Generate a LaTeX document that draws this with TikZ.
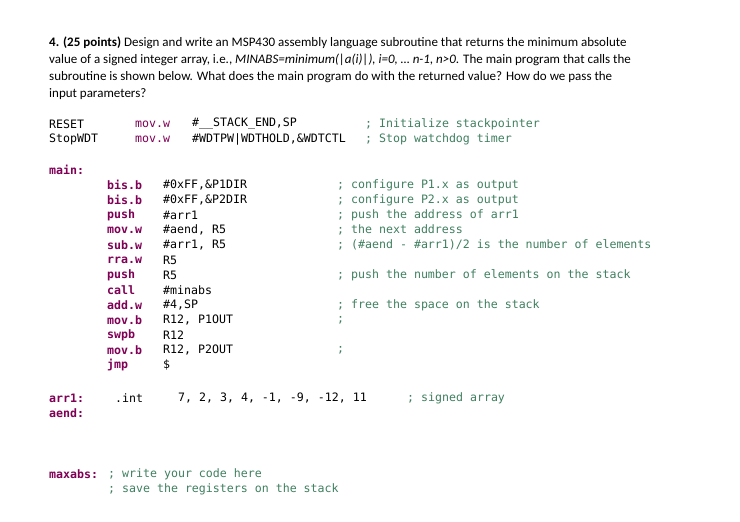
\documentclass[tikz,border=0pt]{standalone}
\usepackage{fontspec}
\setmainfont{Carlito}
\setmonofont{DejaVu Sans Mono}
\definecolor{kwpurple}{RGB}{127,0,85}
\definecolor{cmgreen}{RGB}{63,127,95}
\tikzset{
  qtext/.style={anchor=west,inner sep=0pt,font=\fontsize{13}{15}\selectfont},
  asmtext/.style={anchor=west,inner sep=0pt,font=\ttfamily\fontsize{11.6}{14}\selectfont},
  asmkey/.style={asmtext,text=kwpurple,font=\ttfamily\bfseries\fontsize{11.6}{14}\selectfont},
  asmop/.style={asmtext,text=kwpurple},
  asmnote/.style={asmtext,text=cmgreen}
}
\begin{document}
\begin{tikzpicture}[x=1pt,y=1pt,yscale=-1]
  \useasboundingbox (0,0) rectangle (740,522);
  % question text
  \node[qtext] (q1) at (49,43) {\textbf{4. (25 points)} Design and write an MSP430 assembly language subroutine that returns the minimum absolute};
  \node[qtext] (q2) at (49,60) {value of a signed integer array, i.e., \textit{MINABS=minimum(|a(i)|), i=0, … n-1, n>0}. The main program that calls the};
  \node[qtext] (q3) at (49,77) {subroutine is shown below. What does the main program do with the returned value? How do we pass the};
  \node[qtext] (q4) at (49,94) {input parameters?};
  % reset lines
  \node[asmtext] (reset) at (49,124) {RESET};
  \node[asmop] (resetop) at (135,124) {mov.w};
  \node[asmtext] (resetarg) at (192,124) {\#\_\_STACK\_END,SP};
  \node[asmnote] (resetcm) at (365,124) {; Initialize stackpointer};
  \node[asmtext] (stop) at (49,139) {StopWDT};
  \node[asmop] (stopop) at (135,139) {mov.w};
  \node[asmtext] (stoparg) at (192,139) {\#WDTPW|WDTHOLD,\&WDTCTL};
  \node[asmnote] (stopcm) at (365,139) {; Stop watchdog timer};
  % main program
  \node[asmkey] (main) at (49,170) {main:};
  \foreach \op/\arg/\com [count=\i] in {
      bis.b/{\#0xFF,\&P1DIR}/{; configure P1.x as output},
      bis.b/{\#0xFF,\&P2DIR}/{; configure P2.x as output},
      push/{\#arr1}/{; push the address of arr1},
      mov.w/{\#aend, R5}/{; the next address},
      sub.w/{\#arr1, R5}/{; (\#aend - \#arr1)/2 is the number of elements},
      rra.w/{R5}/{},
      push/{R5}/{; push the number of elements on the stack},
      call/{\#minabs}/{},
      add.w/{\#4,SP}/{; free the space on the stack},
      mov.b/{R12, P1OUT}/{;},
      swpb/{R12}/{},
      mov.b/{R12, P2OUT}/{;},
      jmp/{\$}/{}} {
    \node[asmkey] (op\i) at (107,170+15*\i) {\op};
    \node[asmtext] (arg\i) at (163,170+15*\i) {\arg};
    \node[asmnote] (com\i) at (337,170+15*\i) {\com};
  }
  % data
  \node[asmkey] (arr) at (49,398) {arr1:};
  \node[asmtext] (int) at (115,398) {.int};
  \node[asmtext] (vals) at (178,398) {7, 2, 3, 4, -1, -9, -12, 11};
  \node[asmnote] (valcm) at (407,398) {; signed array};
  \node[asmkey] (aend) at (49,413) {aend:};
  % subroutine
  \node[asmkey] (maxabs) at (49,474) {maxabs:};
  \node[asmnote] (sub1) at (108,474) {; write your code here};
  \node[asmnote] (sub2) at (108,489) {; save the registers on the stack};
\end{tikzpicture}
\end{document}
